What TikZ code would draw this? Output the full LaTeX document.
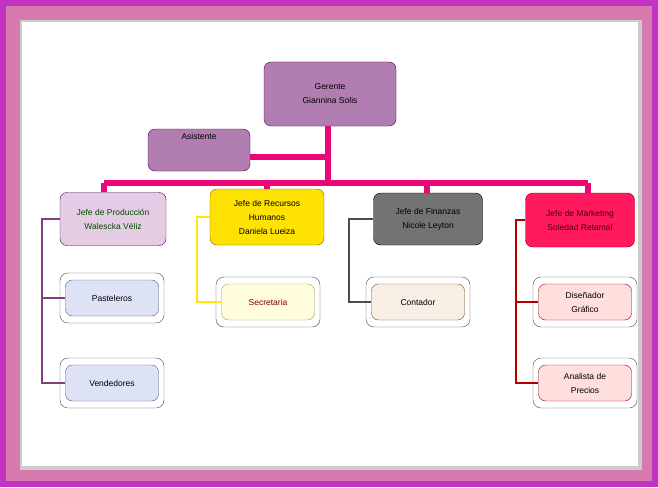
\documentclass[tikz,border=0pt]{standalone}
\usepackage{fontspec}
\setmainfont{Liberation Sans}
\begin{document}
\begin{tikzpicture}[x=1pt,y=-1pt,
 box/.style={draw=#1!60!black,rounded corners=7pt,align=center,font=\fontsize{8.5}{14}\selectfont,inner sep=0pt},
 outer/.style={draw=black!70,fill=white,rounded corners=8pt},
 bar/.style={draw=magenta!80!red,line width=6pt},
 ln/.style={line width=1.5pt}]
\useasboundingbox (0,0) rectangle (658,487);
\fill[violet!60!magenta!80] (0,0) rectangle (658,487);
\fill[magenta!50!violet!60] (6,6) rectangle (652,481);
\fill[black!20] (20,20) rectangle (642,470);
\fill[white] (22,22) rectangle (638,466);
\coordinate (hl) at (104,183); \coordinate (hr) at (588,183);
\node[box=violet,fill=violet!45!white!90!black,minimum width=132pt,minimum height=64pt] (g) at (330,94) {Gerente\\Giannina Solis};
\node[box=violet,fill=violet!45!white!90!black,minimum width=102pt,minimum height=42pt,text depth=28pt] (a) at (199,150) {Asistente};
\draw[bar] (g.south -| 328,0) -- (328,183);
\draw[bar] (a.east |- 0,157) -- (328,157);
\draw[bar] (hl) -- (hr);
\node[box=violet,fill=violet!20,text=green!30!black,minimum width=106pt,minimum height=53pt] (p) at (113,219) {Jefe de Producción\\Walescka Véliz};
\node[box=orange,fill=yellow!85!orange,minimum width=114pt,minimum height=56pt] (r) at (267,217) {Jefe de Recursos\\Humanos\\Daniela Lueiza};
\node[box=black,fill=black!55,minimum width=109pt,minimum height=52pt] (f) at (428,219) {Jefe de Finanzas\\Nicole Leyton};
\node[box=red,fill=red!70!magenta!90,text=red!30!black,minimum width=109pt,minimum height=54pt] (m) at (580,220) {Jefe de Marketing\\Soledad Retamal};
\draw[bar] (hl) -- (p.north -| hl);
\draw[bar] (267,183) -- (r.north);
\draw[bar] (427,183) -- (f.north -| 427,0);
\draw[bar] (hr) -- (m.north -| hr);
\foreach \n/\x/\y/\c/\t/\tc in {ps/112/298/cyan!40!blue/Pasteleros/black, ve/112/383/cyan!40!blue/Vendedores/black, se/268/302/yellow/Secretaria/red!50!black, co/418/302/brown/Contador/black, di/585/302/red/Diseñador\\Gráfico/black, an/585/383/red/Analista de\\Precios/black}{
 \draw[outer] (\x-52,\y-25) rectangle (\x+52,\y+25);
 \node[box=\c,fill=\c!13,text=\tc,minimum width=93pt,minimum height=36pt] (\n) at (\x,\y) {\t};
}
\draw[ln,violet!50!gray] (p.west) -- (42,219) -- (42,383) -- (ve.west);
\draw[ln,violet!50!gray] (42,298) -- (ps.west);
\draw[ln,yellow!90!orange] (r.west) -- (197,217) -- (197,302) -- (se.west);
\draw[ln,black!70] (f.west) -- (349,219) -- (349,302) -- (co.west);
\draw[ln,red!70!black] (m.west) -- (516,220) -- (516,383) -- (an.west);
\draw[ln,red!70!black] (516,302) -- (di.west);
\end{tikzpicture}
\end{document}
